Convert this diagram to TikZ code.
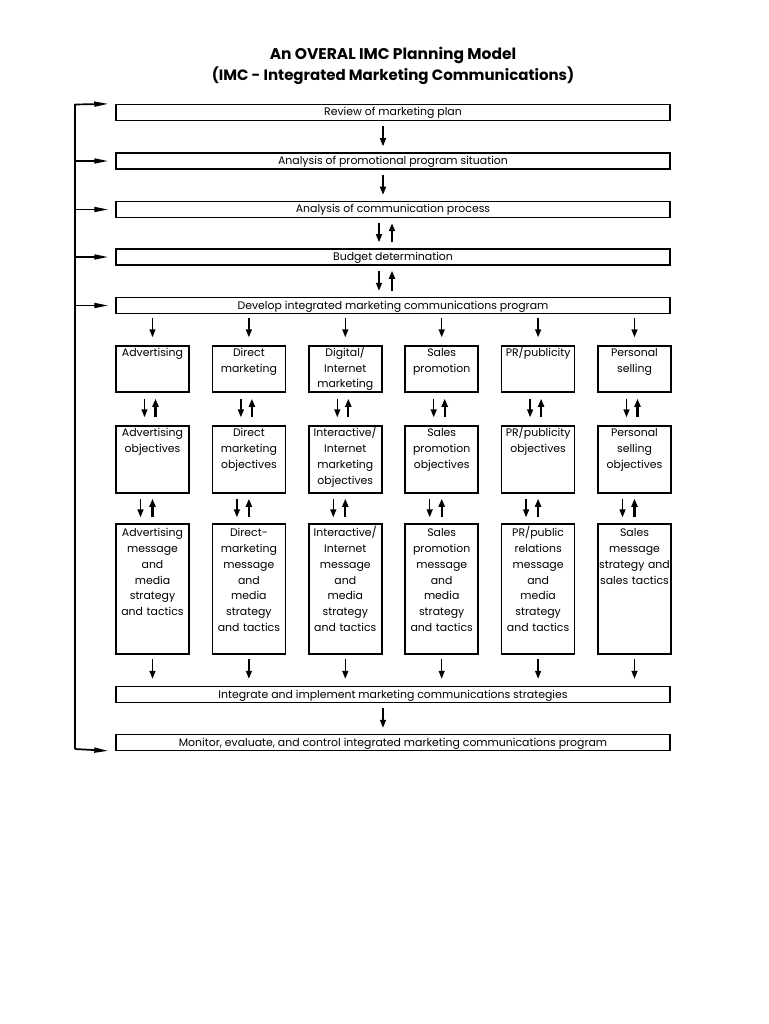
\documentclass[tikz,border=0pt]{standalone}
\usepackage{fontspec}
\setmainfont{Poppins}
\usetikzlibrary{calc}
\usetikzlibrary{arrows.meta,positioning}

\begin{document}
\begin{tikzpicture}[x=1pt,y=-1pt,
  widebox/.style={rectangle,draw=black,line width=1.5pt,minimum width=554pt,minimum height=16pt,inner sep=0pt,text height=8pt,text depth=1pt,font=\fontsize{10.9}{12}\selectfont},
  colbox/.style={rectangle,draw=black,line width=1.5pt,minimum width=73pt,inner sep=0pt},
  coltext/.style={text width=72pt,align=center,inner sep=0pt,execute at begin node={\noindent\rule{0pt}{11pt}},font=\fontsize{10.9}{15.7}\selectfont},
  downarrow/.style={-{Triangle[length=8pt,width=6pt]},line width=1.5pt},
  uparrow/.style={-{Triangle[length=8pt,width=6pt]},line width=2.2pt},
  feedback/.style={-{Triangle[length=14pt,width=5pt]},line width=1.7pt,shorten >=7pt}]

\useasboundingbox (0,0) rectangle (768,1024);
\coordinate (ORIGIN) at (0,0);

%%%%%%%%%%%%%%%%%%%%%
%draw title
\node[font=\fontsize{15.5}{18}\selectfont\bfseries] at ($(ORIGIN)+(393,55)$) (TITLE1) {An OVERAL IMC Planning Model};
\node[font=\fontsize{15}{18}\selectfont\bfseries] at ($(ORIGIN)+(393,76)$) (TITLE2) {(IMC - Integrated Marketing Communications)};

%%%%%%%%%%%%%%%%%%%%%
%draw top boxes
\node[widebox] at ($(ORIGIN)+(393,112.5)$) (REVIEW) {Review of marketing plan};
\node[widebox] at ($(ORIGIN)+(393,161)$) (SITUATION) {Analysis of promotional program situation};
\node[widebox] at ($(ORIGIN)+(393,209.5)$) (COMMPROCESS) {Analysis of communication process};
\node[widebox] at ($(ORIGIN)+(393,257)$) (BUDGET) {Budget determination};
\node[widebox] at ($(ORIGIN)+(393,305.5)$) (DEVELOP) {Develop integrated marketing communications program};

%draw arrows between top boxes
\draw[downarrow,shorten <=5pt,shorten >=6pt] ($(REVIEW.south)+(-10,0)$) -- ($(SITUATION.north)+(-10,0)$);
\draw[downarrow,shorten <=5pt,shorten >=6pt] ($(SITUATION.south)+(-10,0)$) -- ($(COMMPROCESS.north)+(-10,0)$);
\draw[downarrow,shorten <=5pt,shorten >=6pt] ($(COMMPROCESS.south)+(-14,0)$) -- ($(BUDGET.north)+(-14,0)$);
\draw[uparrow,shorten <=6pt,shorten >=5pt] ($(BUDGET.north)+(-1,0)$) -- ($(COMMPROCESS.south)+(-1,0)$);
\draw[downarrow,shorten <=5pt,shorten >=6pt] ($(BUDGET.south)+(-14,0)$) -- ($(DEVELOP.north)+(-14,0)$);
\draw[uparrow,shorten <=6pt,shorten >=5pt] ($(DEVELOP.north)+(-1,0)$) -- ($(BUDGET.south)+(-1,0)$);

%%%%%%%%%%%%%%%%%%%%%
%draw column boxes, row 1
\node[colbox,minimum height=46pt] at ($(ORIGIN)+(152.5,369)$) (ADV1) {};
\node[colbox,minimum height=46pt] at ($(ORIGIN)+(248.9,369)$) (DIR1) {};
\node[colbox,minimum height=46pt] at ($(ORIGIN)+(345.3,369)$) (DIG1) {};
\node[colbox,minimum height=46pt] at ($(ORIGIN)+(441.7,369)$) (SAL1) {};
\node[colbox,minimum height=46pt] at ($(ORIGIN)+(538.1,369)$) (PR1) {};
\node[colbox,minimum height=46pt] at ($(ORIGIN)+(634.5,369)$) (PER1) {};

\node[coltext,below=0pt of ADV1.north] (ADV1TEXT) {Advertising};
\node[coltext,below=0pt of DIR1.north] (DIR1TEXT) {Direct\\marketing};
\node[coltext,below=0pt of DIG1.north] (DIG1TEXT) {Digital/\\Internet\\marketing};
\node[coltext,below=0pt of SAL1.north] (SAL1TEXT) {Sales\\promotion};
\node[coltext,below=0pt of PR1.north] (PR1TEXT) {PR/publicity};
\node[coltext,below=0pt of PER1.north] (PER1TEXT) {Personal\\selling};

%draw column boxes, row 2
\node[colbox,minimum height=67pt] at ($(ORIGIN)+(152.5,459.5)$) (ADV2) {};
\node[colbox,minimum height=67pt] at ($(ORIGIN)+(248.9,459.5)$) (DIR2) {};
\node[colbox,minimum height=67pt] at ($(ORIGIN)+(345.3,459.5)$) (DIG2) {};
\node[colbox,minimum height=67pt] at ($(ORIGIN)+(441.7,459.5)$) (SAL2) {};
\node[colbox,minimum height=67pt] at ($(ORIGIN)+(538.1,459.5)$) (PR2) {};
\node[colbox,minimum height=67pt] at ($(ORIGIN)+(634.5,459.5)$) (PER2) {};

\node[coltext,below=0.5pt of ADV2.north] (ADV2TEXT) {Advertising\\objectives};
\node[coltext,below=0.5pt of DIR2.north] (DIR2TEXT) {Direct\\marketing\\objectives};
\node[coltext,below=0.5pt of DIG2.north] (DIG2TEXT) {Interactive/\\Internet\\marketing\\objectives};
\node[coltext,below=0.5pt of SAL2.north] (SAL2TEXT) {Sales\\promotion\\objectives};
\node[coltext,below=0.5pt of PR2.north] (PR2TEXT) {PR/publicity\\objectives};
\node[coltext,below=0.5pt of PER2.north] (PER2TEXT) {Personal\\selling\\objectives};

%draw column boxes, row 3
\node[colbox,minimum height=130pt] at ($(ORIGIN)+(152.5,589)$) (ADV3) {};
\node[colbox,minimum height=130pt] at ($(ORIGIN)+(248.9,589)$) (DIR3) {};
\node[colbox,minimum height=130pt] at ($(ORIGIN)+(345.3,589)$) (DIG3) {};
\node[colbox,minimum height=130pt] at ($(ORIGIN)+(441.7,589)$) (SAL3) {};
\node[colbox,minimum height=130pt] at ($(ORIGIN)+(538.1,589)$) (PR3) {};
\node[colbox,minimum height=130pt] at ($(ORIGIN)+(634.5,589)$) (PER3) {};

\node[coltext,below=2.5pt of ADV3.north] (ADV3TEXT) {Advertising\\message\\and\\media\\strategy\\and tactics};
\node[coltext,below=2.5pt of DIR3.north] (DIR3TEXT) {Direct-\\marketing\\message\\and\\media\\strategy\\and tactics};
\node[coltext,below=2.5pt of DIG3.north] (DIG3TEXT) {Interactive/\\Internet\\message\\and\\media\\strategy\\and tactics};
\node[coltext,below=2.5pt of SAL3.north] (SAL3TEXT) {Sales\\promotion\\message\\and\\media\\strategy\\and tactics};
\node[coltext,below=2.5pt of PR3.north] (PR3TEXT) {PR/public\\relations\\message\\and\\media\\strategy\\and tactics};
\node[coltext,below=2.5pt of PER3.north] (PER3TEXT) {Sales\\message\\strategy and\\sales tactics};

%%%%%%%%%%%%%%%%%%%%%
%draw arrows from develop box to row 1
\draw[downarrow,shorten <=4pt,shorten >=8pt] (DEVELOP.south -| ADV1.north) -- (ADV1.north);
\draw[downarrow,shorten <=4pt,shorten >=8pt] (DEVELOP.south -| DIR1.north) -- (DIR1.north);
\draw[downarrow,shorten <=4pt,shorten >=8pt] (DEVELOP.south -| DIG1.north) -- (DIG1.north);
\draw[downarrow,shorten <=4pt,shorten >=8pt] (DEVELOP.south -| SAL1.north) -- (SAL1.north);
\draw[downarrow,shorten <=4pt,shorten >=8pt] (DEVELOP.south -| PR1.north) -- (PR1.north);
\draw[downarrow,shorten <=4pt,shorten >=8pt] (DEVELOP.south -| PER1.north) -- (PER1.north);

%draw arrows between row 1 and row 2
\draw[downarrow,shorten <=6pt,shorten >=8pt] ($(ADV1.south)+(-8,0)$) -- ($(ADV2.north)+(-8,0)$);
\draw[uparrow,shorten <=8pt,shorten >=6pt] ($(ADV2.north)+(3,0)$) -- ($(ADV1.south)+(3,0)$);
\draw[downarrow,shorten <=6pt,shorten >=8pt] ($(DIR1.south)+(-8,0)$) -- ($(DIR2.north)+(-8,0)$);
\draw[uparrow,shorten <=8pt,shorten >=6pt] ($(DIR2.north)+(3,0)$) -- ($(DIR1.south)+(3,0)$);
\draw[downarrow,shorten <=6pt,shorten >=8pt] ($(DIG1.south)+(-8,0)$) -- ($(DIG2.north)+(-8,0)$);
\draw[uparrow,shorten <=8pt,shorten >=6pt] ($(DIG2.north)+(3,0)$) -- ($(DIG1.south)+(3,0)$);
\draw[downarrow,shorten <=6pt,shorten >=8pt] ($(SAL1.south)+(-8,0)$) -- ($(SAL2.north)+(-8,0)$);
\draw[uparrow,shorten <=8pt,shorten >=6pt] ($(SAL2.north)+(3,0)$) -- ($(SAL1.south)+(3,0)$);
\draw[downarrow,shorten <=6pt,shorten >=8pt] ($(PR1.south)+(-8,0)$) -- ($(PR2.north)+(-8,0)$);
\draw[uparrow,shorten <=8pt,shorten >=6pt] ($(PR2.north)+(3,0)$) -- ($(PR1.south)+(3,0)$);
\draw[downarrow,shorten <=6pt,shorten >=8pt] ($(PER1.south)+(-8,0)$) -- ($(PER2.north)+(-8,0)$);
\draw[uparrow,shorten <=8pt,shorten >=6pt] ($(PER2.north)+(3,0)$) -- ($(PER1.south)+(3,0)$);

%draw arrows between row 2 and row 3
\draw[downarrow,shorten <=5pt,shorten >=6pt] ($(ADV2.south)+(-12,0)$) -- ($(ADV3.north)+(-12,0)$);
\draw[uparrow,shorten <=6pt,shorten >=5pt] ($(ADV3.north)+(0,0)$) -- ($(ADV2.south)+(0,0)$);
\draw[downarrow,shorten <=5pt,shorten >=6pt] ($(DIR2.south)+(-12,0)$) -- ($(DIR3.north)+(-12,0)$);
\draw[uparrow,shorten <=6pt,shorten >=5pt] ($(DIR3.north)+(0,0)$) -- ($(DIR2.south)+(0,0)$);
\draw[downarrow,shorten <=5pt,shorten >=6pt] ($(DIG2.south)+(-12,0)$) -- ($(DIG3.north)+(-12,0)$);
\draw[uparrow,shorten <=6pt,shorten >=5pt] ($(DIG3.north)+(0,0)$) -- ($(DIG2.south)+(0,0)$);
\draw[downarrow,shorten <=5pt,shorten >=6pt] ($(SAL2.south)+(-12,0)$) -- ($(SAL3.north)+(-12,0)$);
\draw[uparrow,shorten <=6pt,shorten >=5pt] ($(SAL3.north)+(0,0)$) -- ($(SAL2.south)+(0,0)$);
\draw[downarrow,shorten <=5pt,shorten >=6pt] ($(PR2.south)+(-12,0)$) -- ($(PR3.north)+(-12,0)$);
\draw[uparrow,shorten <=6pt,shorten >=5pt] ($(PR3.north)+(0,0)$) -- ($(PR2.south)+(0,0)$);
\draw[downarrow,shorten <=5pt,shorten >=6pt] ($(PER2.south)+(-12,0)$) -- ($(PER3.north)+(-12,0)$);
\draw[uparrow,shorten <=6pt,shorten >=5pt] ($(PER3.north)+(0,0)$) -- ($(PER2.south)+(0,0)$);

%%%%%%%%%%%%%%%%%%%%%
%draw bottom boxes
\node[widebox] at ($(ORIGIN)+(393,694.5)$) (INTEGRATE) {Integrate and implement marketing communications strategies};
\node[widebox] at ($(ORIGIN)+(393,742.5)$) (MONITOR) {Monitor, evaluate, and control integrated marketing communications program};

%draw arrows from row 3 to integrate box
\draw[downarrow,shorten <=4pt,shorten >=7pt] (ADV3.south) -- (ADV3.south |- INTEGRATE.north);
\draw[downarrow,shorten <=4pt,shorten >=7pt] (DIR3.south) -- (DIR3.south |- INTEGRATE.north);
\draw[downarrow,shorten <=4pt,shorten >=7pt] (DIG3.south) -- (DIG3.south |- INTEGRATE.north);
\draw[downarrow,shorten <=4pt,shorten >=7pt] (SAL3.south) -- (SAL3.south |- INTEGRATE.north);
\draw[downarrow,shorten <=4pt,shorten >=7pt] (PR3.south) -- (PR3.south |- INTEGRATE.north);
\draw[downarrow,shorten <=4pt,shorten >=7pt] (PER3.south) -- (PER3.south |- INTEGRATE.north);

\draw[downarrow,shorten <=5pt,shorten >=6pt] ($(INTEGRATE.south)+(-10,0)$) -- ($(MONITOR.north)+(-10,0)$);

%%%%%%%%%%%%%%%%%%%%%
%draw feedback line on the left
\coordinate (FBTOP) at ($(ORIGIN)+(75,104.5)$);
\coordinate (FBBOTTOM) at ($(ORIGIN)+(75,749)$);
\draw[line width=1.7pt] (FBTOP) -- (FBBOTTOM);

\draw[feedback] (FBTOP) -- (REVIEW.north west);
\draw[feedback] (FBTOP |- SITUATION.west) -- (SITUATION.west);
\draw[feedback] (FBTOP |- COMMPROCESS.west) -- (COMMPROCESS.west);
\draw[feedback] (FBTOP |- BUDGET.west) -- (BUDGET.west);
\draw[feedback] (FBTOP |- DEVELOP.west) -- (DEVELOP.west);
\draw[feedback] (FBBOTTOM) -- (MONITOR.south west);

%%%%%%%%%%%%%%%%%%%%%%

\end{tikzpicture}
\end{document}
